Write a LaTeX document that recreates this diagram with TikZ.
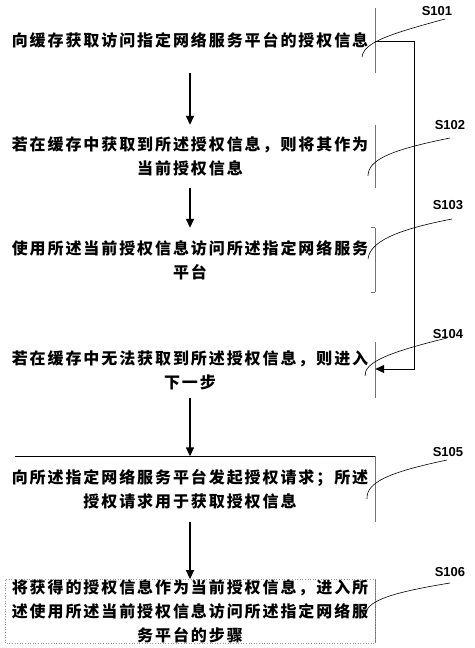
\documentclass[tikz,border=0pt]{standalone}
\usepackage{fontspec}
\newfontfamily\cjk[LetterSpace=12]{Noto Sans CJK SC}
\newfontfamily\lab{Liberation Sans}
\usetikzlibrary{arrows.meta}
\begin{document}
\begin{tikzpicture}[x=1pt,y=-1pt,
  box/.style={inner sep=0pt,minimum width=370pt,align=center,
    font=\cjk\bfseries\fontsize{16}{24}\selectfont},
  edge/.style={draw=black!55,line width=0.8pt},
  flow/.style={line width=1.4pt,-{Triangle[length=9pt,width=8pt]}},
  callout/.style={line width=0.6pt},
  steplab/.style={font=\lab\bfseries\fontsize{13}{15}\selectfont,inner sep=1pt}]
\useasboundingbox (0,0) rectangle (474,648);
\fill[white] (0,0) rectangle (474,648);

\node[box,minimum height=65pt] (b1) at (190,40.5) {向缓存获取访问指定网络服务平台的授权信息};
\node[box,minimum height=63pt] (b2) at (190,156.5) {若在缓存中获取到所述授权信息，则将其作为\\当前授权信息};
\node[box,minimum height=64pt] (b3) at (190,260) {使用所述当前授权信息访问所述指定网络服务\\平台};
\node[box,minimum height=55pt] (b4) at (190,370) {若在缓存中无法获取到所述授权信息，则进入\\下一步};
\node[box,minimum height=65pt] (b5) at (190,489) {向所述指定网络服务平台发起授权请求；所述\\授权请求用于获取授权信息};
\node[box,minimum height=62pt] (b6) at (190,611) {将获得的授权信息作为当前授权信息，进入所\\述使用所述当前授权信息访问所述指定网络服\\务平台的步骤};

% visible box edges
\foreach \b in {b1,b2,b3,b4,b5,b6}{\draw[edge] (\b.north east) -- (\b.south east);}
\draw[edge] (b3.north east) -- ++(-4,0);
\draw[edge] (b3.south east) -- ++(-4,0);
\draw[line width=0.8pt] ([xshift=10pt]b5.north west) -- (b5.north east);
\draw[draw=black!40,dotted,line width=0.6pt] (b6.south west) rectangle (b6.north east);

% flow arrows
\draw[flow] (b1.south) -- (b2.north);
\draw[flow] (b2.south) -- (b3.north);
\draw[flow] (b4.south) -- (b5.north);
\draw[flow] (b5.south) -- (b6.north);

% feedback loop
\coordinate (l1) at (414,41);
\coordinate (l2) at (414,369);
\coordinate (s1) at (b1.east |- l1);
\coordinate (e4) at (b4.east |- l2);
\draw[line width=1pt,-{Triangle[length=9pt,width=8pt]}] (s1) -- (l1) -- (l2) -- (e4);

% step labels and callouts
\node[steplab] (t1) at (437,11) {S101};
\node[steplab] (t2) at (450,125) {S102};
\node[steplab] (t3) at (448,205) {S103};
\node[steplab] (t4) at (448,334) {S104};
\node[steplab] (t5) at (448,452) {S105};
\node[steplab] (t6) at (450,572) {S106};

\coordinate (c1) at (362,57);
\coordinate (c2) at (368,176);
\coordinate (c3) at (368,259);
\coordinate (c4) at (365,376);
\coordinate (c5) at (367,499);
\coordinate (c6) at (366,613);

\draw[callout] (445,19) .. controls (390,34) and (364,42) .. (c1);
\draw[callout] (450,138) .. controls (390,150) and (368,160) .. (c2);
\draw[callout] (452,219) .. controls (395,230) and (370,242) .. (c3);
\draw[callout] (447,338) .. controls (390,352) and (364,362) .. (c4);
\draw[callout] (447,460) .. controls (390,472) and (366,482) .. (c5);
\draw[callout] (450,583) .. controls (395,592) and (368,600) .. (c6);
\end{tikzpicture}
\end{document}
